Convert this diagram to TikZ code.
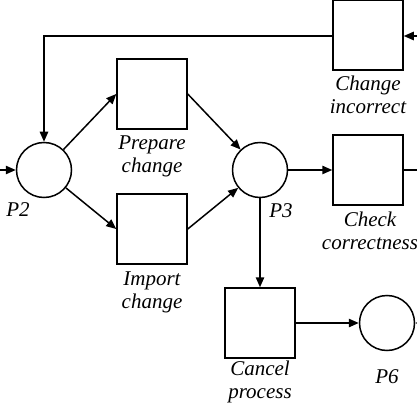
\documentclass[tikz,border=0pt]{standalone}
\usepackage{fontspec}
\setmainfont{Liberation Serif}
\usetikzlibrary{arrows.meta}

\begin{document}
\begin{tikzpicture}[x=0.5pt,y=-0.5pt,>={Triangle[length=5pt,width=4.2pt]},
  line width=0.75pt,
  place/.style={draw,circle,minimum size=27.5pt,inner sep=0pt},
  trans/.style={draw,rectangle,minimum size=35pt,inner sep=0pt},
  txt/.style={align=center,font=\fontsize{10.5}{11.5}\selectfont\itshape}]

\useasboundingbox (0,0) rectangle (416,416);

\node[place] (P2) at (44,170) {};
\node[place] (P3) at (260,170) {};
\node[place] (P6) at (387,323) {};
\node[trans] (prep) at (152,94) {};
\node[trans] (imp) at (152,229) {};
\node[trans] (check) at (368,170) {};
\node[trans] (incorr) at (368,35) {};
\node[trans] (cancel) at (260,323) {};

\coordinate (inP2) at (0,170);
\coordinate (outcheck) at (430,170);
\coordinate (inincorr) at (430,36);
\coordinate (inP6) at (430,323);

\draw [->] (inP2)--(P2);
\draw [->] (P2)--(prep.west);
\draw [->] (P2)--(imp.west);
\draw [->] (prep.east)--(P3);
\draw [->] (imp.east)--(P3);
\draw [->] (P3)--(check.west);
\draw (check.east)--(outcheck);
\draw [->] (P3)--(cancel.north);
\draw [->] (cancel.east)--(P6);
\draw [->] (inP6)--(P6);
\draw [->] (inincorr)--(incorr.east|-inincorr);
\draw [->] (incorr.west|-inincorr)-|(P2);

\node[txt] (lP2) at (18,210) {P2};
\node[txt] (lP3) at (281,211) {P3};
\node[txt] (lP6) at (387,377) {P6};
\node[txt] (lprep) at (152,156) {Prepare\\change};
\node[txt] (limp) at (152,292) {Import\\change};
\node[txt] (lcheck) at (370,231) {Check\\correctness};
\node[txt] (lincorr) at (368,95) {Change\\incorrect};
\node[txt] (lcancel) at (260,382) {Cancel\\process};

\end{tikzpicture}
\end{document}
